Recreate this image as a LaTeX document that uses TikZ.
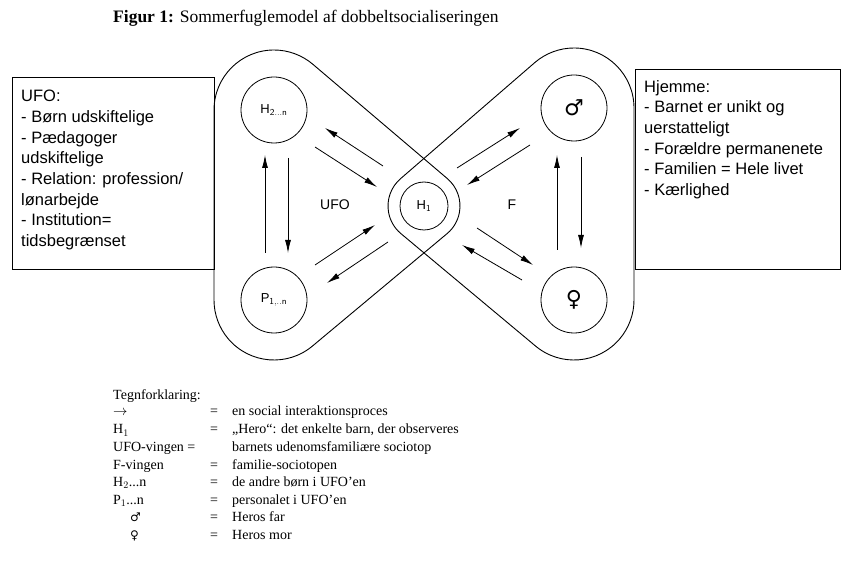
\documentclass[tikz,border=0pt]{standalone}
\usepackage{fontspec}
\setmainfont{Liberation Serif}
\newfontfamily\sansf{Liberation Sans}
\newfontfamily\symf{DejaVu Sans}
\usetikzlibrary{calc,arrows.meta}
\begin{document}
\begin{tikzpicture}[x=1pt,y=1pt,
  wing/.style={line width=0.9pt},
  mem/.style={circle,draw,line width=0.8pt,minimum size=66pt,inner sep=0pt,font=\sansf\fontsize{13}{13}\selectfont},
  ia/.style={line width=0.8pt,-{Latex[length=13pt,width=6pt]}},
  boxframe/.style={draw,line width=1pt},
  boxtext/.style={anchor=north west,align=left,inner sep=0pt,font=\sansf\fontsize{16.5}{20.7}\selectfont},
  leg/.style={anchor=base west,inner sep=0pt,font=\fontsize{14}{14}\selectfont}]
\useasboundingbox (0,0) rectangle (852,563);
\fill[white] (0,0) rectangle (852,563);
% centres
\coordinate (cH2) at (274,453);
\coordinate (cP) at (274,263);
\coordinate (cH1) at (424,357);
\coordinate (cM) at (574,455);
\coordinate (cF) at (574,263);
% wings
\draw[wing] ($(cH2)+(180:60)$) arc[start angle=180,end angle=49.6,radius=60]
  -- ($(cH1)+(49.6:36)$) arc[start angle=49.6,end angle=-49.6,radius=36]
  -- ($(cP)+(-49.6:60)$) arc[start angle=-49.6,end angle=-180,radius=60] -- cycle;
\draw[wing] ($(cM)+(0:60)$) arc[start angle=0,end angle=130.4,radius=60]
  -- ($(cH1)+(130.4:36)$) arc[start angle=130.4,end angle=229.6,radius=36]
  -- ($(cF)+(229.6:60)$) arc[start angle=229.6,end angle=360,radius=60] -- cycle;
% members
\node[mem] (H2) at (cH2) {H$_{\mathsf{2...n}}$};
\node[mem] (P) at (cP) {P$_{\mathsf{1,..n}}$};
\node[mem] (M) at (cM) {\symf\fontsize{22}{22}\selectfont ♂};
\node[mem] (F) at (cF) {\symf\fontsize{22}{22}\selectfont ♀};
\node[mem,minimum size=48pt] (H1) at (cH1) {H$_{\mathsf{1}}$};
\node[font=\sansf\fontsize{14}{14}\selectfont] (ufo) at (335,358) {UFO};
\node[font=\sansf\fontsize{14}{14}\selectfont] (fl) at (512,358) {F};
% arrows
\coordinate (a1s) at (383,397); \coordinate (a1e) at (325,435);
\coordinate (a2s) at (315,416); \coordinate (a2e) at (377,376);
\coordinate (a3s) at (315,298); \coordinate (a3e) at (375,338);
\coordinate (a4s) at (388,321); \coordinate (a4e) at (327,280);
\coordinate (a5s) at (265,310); \coordinate (a5e) at (265,408);
\coordinate (a6s) at (288,405); \coordinate (a6e) at (288,310);
\coordinate (a7s) at (457,395); \coordinate (a7e) at (520,435);
\coordinate (a8s) at (530,418); \coordinate (a8e) at (467,378);
\coordinate (a9s) at (477,335); \coordinate (a9e) at (533,298);
\coordinate (a10s) at (522,283); \coordinate (a10e) at (462,318);
\coordinate (a11s) at (557,313); \coordinate (a11e) at (557,408);
\coordinate (a12s) at (581,406); \coordinate (a12e) at (581,315);
\foreach \i in {1,...,12} \draw[ia] (a\i s) -- (a\i e);
% boxes
\draw[boxframe] (12,293) rectangle (214,485);
\node[boxtext] (lb) at (21,473) {UFO:\\- Børn udskiftelige\\- Pædagoger\\udskiftelige\\- Relation: profession/\\lønarbejde\\- Institution=\\tidsbegrænset};
\draw[boxframe] (635,293) rectangle (840,493);
\node[boxtext] (rb) at (644,483) {Hjemme:\\- Barnet er unikt og\\uerstatteligt\\- Forældre permanenete\\- Familien = Hele livet\\- Kærlighed};
% title
\node[anchor=base west,inner sep=0pt,font=\fontsize{17.5}{17.5}\selectfont] (title) at (113,540) {\textbf{Figur 1:} Sommerfuglemodel af dobbeltsocialiseringen};
% legend
\node[leg] (l0) at (113,164) {Tegnforklaring:};
\node[leg] (l1) at (113,147) {$\rightarrow$};
\node[leg] (l2) at (113,129) {H$_1$};
\node[leg] (l3) at (113,112) {UFO-vingen =};
\node[leg] (l4) at (113,94) {F-vingen};
\node[leg] (l5) at (113,77) {H$_2$...n};
\node[leg] (l6) at (113,59) {P$_1$...n};
\node[leg] (l7) at (130,42) {\symf\fontsize{12}{12}\selectfont ♂};
\node[leg] (l8) at (130,24) {\symf\fontsize{12}{12}\selectfont ♀};
\foreach \y in {147,129,94,77,59,42,24} \node[leg] at (210,\y) {=};
\node[leg] (t1) at (232,147) {en social interaktionsproces};
\node[leg] (t2) at (232,129) {„Hero“: det enkelte barn, der observeres};
\node[leg] (t3) at (232,112) {barnets udenomsfamiliære sociotop};
\node[leg] (t4) at (232,94) {familie-sociotopen};
\node[leg] (t5) at (232,77) {de andre børn i UFO’en};
\node[leg] (t6) at (232,59) {personalet i UFO’en};
\node[leg] (t7) at (232,42) {Heros far};
\node[leg] (t8) at (232,24) {Heros mor};
\end{tikzpicture}
\end{document}
